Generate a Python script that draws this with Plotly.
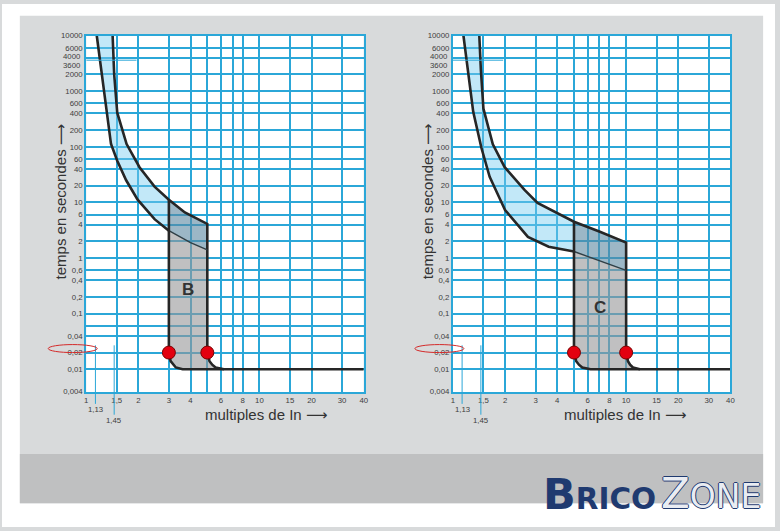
import math
import plotly.graph_objects as go

W, H = 780, 531

# ---------------- data (multiples of In  /  seconds) ----------------
x_ticks = [1, 1.5, 2, 3, 4, 5, 6, 7, 8, 10, 15, 20, 30, 40]
x_tick_labels = ["1", "1,5", "2", "3", "4", "", "6", "", "8", "10", "15", "20", "30", "40"]
y_ticks = [10000, 6000, 4000, 2000, 1000, 600, 400, 200, 100, 60, 40, 20, 10, 6, 4, 2, 1,
           0.6, 0.4, 0.2, 0.1, 0.06, 0.04, 0.02, 0.01, 0.004]
y_tick_labels = ["10000", "6000", "4000", "2000", "1000", "600", "400", "200", "100", "60", "40",
                 "20", "10", "6", "4", "2", "1", "0,6", "0,4", "0,2", "0,1", "", "0,04", "0,02",
                 "0,01", "0,004"]
crowded_values = [4000, 3600]          # labels nudged apart (as in the original)
crowded_labels = ["4000", "3600"]
hour_value = 3600
hour_mark_x = [1, 1.95]
conventional_x = [1.13, 1.45]
conventional_labels = ["1,13", "1,45"]
conventional_top_t = 0.027

# Curve B
b_upper_x = [1.42, 1.45, 1.51, 1.61, 1.71, 2.03, 2.48, 3.0, 3.71, 5.0]
b_upper_t = [10000, 2000, 410, 200, 112, 43, 19.2, 11.2, 6.6, 4.1]
b_lower_x = [1.15, 1.23, 1.31, 1.35, 1.39, 1.51, 1.70, 1.98, 2.48, 3.0, 4.0, 5.0]
b_lower_t = [10000, 2000, 410, 200, 112, 56, 25, 11.2, 5.0, 3.1, 1.9, 1.4]
b_knee_left_x = [3.0, 3.07, 3.17, 3.29, 3.6]
b_knee_right_x = [5.0, 5.15, 5.34, 5.58, 6.23]
b_label = "B"
b_label_pos = (3.87, 0.27)

# Curve C
c_upper_x = [1.42, 1.45, 1.50, 1.70, 1.99, 2.59, 3.08, 4.0, 5.0, 7.0, 10.0]
c_upper_t = [10000, 2430, 484, 111, 43, 16.8, 9.8, 6.4, 4.5, 3.0, 1.9]
c_lower_x = [1.15, 1.23, 1.31, 1.46, 1.63, 1.84, 2.0, 2.71, 3.57, 5.0, 7.0, 10.0]
c_lower_t = [10000, 1860, 424, 96, 28.8, 12.8, 7.3, 2.4, 1.6, 1.31, 0.90, 0.60]
c_knee_left_x = [5.0, 5.15, 5.34, 5.58, 6.23]
c_knee_right_x = [10.0, 10.25, 10.54, 10.95, 12.0]
c_label = "C"
c_label_pos = (7.07, 0.13)

knee_t = [0.02, 0.014, 0.0121, 0.0108, 0.01]
floor_t = 0.01
x_max = 40
y_min, y_max = 0.0039, 10000

# ---------------- styles ----------------
GRID = "#2ba7d8"
INK = "#262626"
BAND = "rgba(120,205,240,0.45)"
OVER = "rgba(90,135,160,0.6)"
GREY = "rgba(150,150,152,0.6)"
TICKFONT = dict(family="Liberation Sans, Arial, sans-serif", size=7.8, color="#404040")
TITLEFONT = dict(family="Liberation Sans, Arial, DejaVu Sans, sans-serif", size=15, color="#333333")

plot_top, plot_bot = 32, 394
plot_h = plot_bot - plot_top
dom_y = [1 - plot_bot / H, 1 - plot_top / H]
dom_x = [[85 / W, 365 / W], [455 / W, 735 / W]]

fig = go.Figure()


def add_chart(k, ux, ut, lx, lt, klx, krx, label, label_pos):
    xa = "x" if k == 0 else "x2"
    ya = "y" if k == 0 else "y2"
    xl, xr = klx[0], krx[0]
    iu, il = ux.index(xl), lx.index(xl)
    common = dict(xaxis=xa, yaxis=ya, hoverinfo="skip", showlegend=False)
    # light-blue tolerance band (left of first vertical)
    fig.add_trace(go.Scatter(x=ux[:iu + 1] + lx[:il + 1][::-1], y=ut[:iu + 1] + lt[:il + 1][::-1],
                             fill="toself", fillcolor=BAND, mode="lines", line=dict(width=0), **common))
    # overlap of band and magnetic zone
    fig.add_trace(go.Scatter(x=ux[iu:] + lx[il:][::-1], y=ut[iu:] + lt[il:][::-1],
                             fill="toself", fillcolor=OVER, mode="lines", line=dict(width=0), **common))
    # grey magnetic zone
    fig.add_trace(go.Scatter(x=lx[il:] + krx + klx[::-1], y=lt[il:] + knee_t + knee_t[::-1],
                             fill="toself", fillcolor=GREY, mode="lines", line=dict(width=0), **common))
    # outlines
    fig.add_trace(go.Scatter(x=ux + krx + [x_max], y=ut + knee_t + [floor_t], mode="lines",
                             line=dict(color=INK, width=2.6), **common))
    fig.add_trace(go.Scatter(x=lx[:il + 1], y=lt[:il + 1], mode="lines",
                             line=dict(color=INK, width=2.6), **common))
    fig.add_trace(go.Scatter(x=lx[il:], y=lt[il:], mode="lines",
                             line=dict(color="#2f3f46", width=1.4), **common))
    fig.add_trace(go.Scatter(x=[xl] + klx + [krx[-1]], y=[ut[iu]] + knee_t + [floor_t], mode="lines",
                             line=dict(color=INK, width=2.6), **common))
    # red points at 0,02 s
    fig.add_trace(go.Scatter(x=[xl, xr], y=[knee_t[0], knee_t[0]], mode="markers",
                             marker=dict(size=13, color="#e3000f", line=dict(color="#7a0000", width=1)),
                             **common))
    # curve letter
    fig.add_annotation(x=math.log10(label_pos[0]), y=math.log10(label_pos[1]), xref=xa, yref=ya,
                       text="<b>%s</b>" % label, showarrow=False,
                       font=dict(family="Liberation Sans, Arial, sans-serif", size=17, color="#333333"))

    xd, yd = xa + " domain", ya + " domain"
    span = math.log10(y_max) - math.log10(y_min)
    top_frac = (math.log10(conventional_top_t) - math.log10(y_min)) / span
    # conventional non-trip / trip markers 1,13 and 1,45
    for j, (cx, cl) in enumerate(zip(conventional_x, conventional_labels)):
        drop = 12 if j == 0 else 23
        fig.add_shape(type="line", xref=xa, yref=yd, x0=cx, x1=cx, y0=-drop / plot_h, y1=top_frac,
                      line=dict(color=GRID, width=1))
        fig.add_annotation(x=math.log10(cx), xref=xa, y=0, yref=yd, yanchor="middle",
                           yshift=-(17 if j == 0 else 28),
                           text=cl, showarrow=False, font=TICKFONT)
    # 1 hour mark
    fig.add_shape(type="line", xref=xa, yref=ya, x0=hour_mark_x[0], x1=hour_mark_x[1],
                  y0=hour_value, y1=hour_value, line=dict(color=GRID, width=1))
    # crowded tick labels 4000 / 3600, spread apart a little
    for v, lab, dy in zip(crowded_values, crowded_labels, [1.5, -5.5]):
        fig.add_annotation(x=0, xref=xd, xanchor="right", xshift=-3, y=math.log10(v), yref=ya,
                           yanchor="middle", yshift=dy, text=lab, showarrow=False, font=TICKFONT)
    # red ellipse around 0,02
    fig.add_shape(type="circle", xref=xd, yref=ya, xsizemode="pixel", ysizemode="pixel",
                  xanchor=0, x0=-38, x1=11, yanchor=knee_t[0], y0=-8, y1=8,
                  line=dict(color="#d42a2a", width=1))
    # axis titles
    fig.add_annotation(x=-25 / 280, xref=xd, xanchor="center", y=(plot_bot - 200) / plot_h, yref=yd,
                       yanchor="middle", textangle=-90,
                       text="temps en secondes ⟶", showarrow=False, font=TITLEFONT)
    fig.add_annotation(x=0.649 if k == 0 else 0.621, xref=xd, xanchor="center",
                       y=-22.5 / plot_h, yref=yd, yanchor="middle",
                       text="multiples de In ⟶", showarrow=False, font=TITLEFONT)


add_chart(0, b_upper_x, b_upper_t, b_lower_x, b_lower_t, b_knee_left_x, b_knee_right_x, b_label, b_label_pos)
add_chart(1, c_upper_x, c_upper_t, c_lower_x, c_lower_t, c_knee_left_x, c_knee_right_x, c_label, c_label_pos)

y_text_shown = ["" if v in crowded_values else t for v, t in zip(y_ticks, y_tick_labels)]
axis_common = dict(type="log", showgrid=True, gridcolor=GRID, gridwidth=2, showline=True,
                   linecolor=GRID, linewidth=2, mirror=True, ticks="", zeroline=False,
                   tickfont=TICKFONT, fixedrange=True)
for k in range(2):
    sfx = "" if k == 0 else "2"
    fig.update_layout(**{
        "xaxis" + sfx: dict(axis_common, domain=dom_x[k], anchor="y" + sfx,
                            range=[0, math.log10(x_max)], tickvals=x_ticks, ticktext=x_tick_labels),
        "yaxis" + sfx: dict(axis_common, domain=dom_y, anchor="x" + sfx,
                            range=[math.log10(y_min), math.log10(y_max)],
                            tickvals=y_ticks, ticktext=y_text_shown),
    })

# page frame: white border, grey panel, darker footer band
frame = [
    (0, 0, W, 12, "white"), (0, 0, 18, H, "white"), (768, 0, W, H, "white"),
    (0, 507, W, H, "white"), (18, 457, 768, 507, "#bfc0c1"),
]
for x0, y0, x1, y1, col in frame:
    fig.add_shape(type="rect", xref="paper", yref="paper", x0=x0 / W, x1=x1 / W,
                  y0=1 - y1 / H, y1=1 - y0 / H, fillcolor=col, line=dict(width=0), layer="below")

NAVY = "#1f3a70"
fig.add_annotation(xref="paper", yref="paper", x=545 / W, y=1 - 497 / H, xanchor="left", yanchor="middle",
                   borderpad=0,
                   text="<span style='font-size:43px'>B</span><span style='font-size:29.5px'>RICO</span>",
                   showarrow=False, font=dict(family="DejaVu Sans, sans-serif", size=29.5, color=NAVY,
                                              weight="bold"))
fig.add_annotation(xref="paper", yref="paper", x=664 / W, y=1 - 497 / H, xanchor="left", yanchor="middle",
                   borderpad=0,
                   text="<span style='font-size:42px'>Z</span><span style='font-size:33px'>ONE</span>",
                   showarrow=False,
                   font=dict(family="DejaVu Sans, sans-serif", size=33, color="#e9ecf2",
                             shadow="1px 0 0 %s, -1px 0 0 %s, 0 1px 0 %s, 0 -1px 0 %s" % (NAVY, NAVY, NAVY, NAVY)))

fig.update_layout(width=W, height=H, margin=dict(l=0, r=0, t=0, b=0), paper_bgcolor="#d8dadb",
                  plot_bgcolor="white", showlegend=False)

fig.write_html("out.html")
